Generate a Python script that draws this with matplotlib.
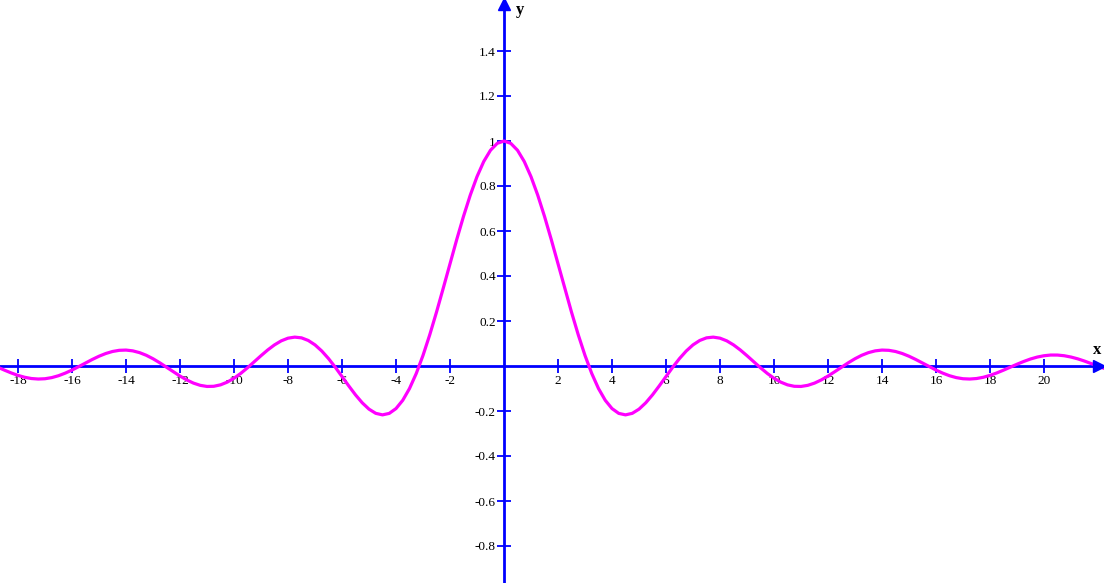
import numpy as np
import matplotlib.pyplot as plt

x_start, x_end, x_step = -19.0, 22.5, 0.25
y_vals = [0.0079, -0.0053, -0.0185, -0.0309, -0.0417, -0.0502, -0.0557, -0.0579,
          -0.0566, -0.0516, -0.0432, -0.0317, -0.0180, -0.0027, 0.0133, 0.0290,
          0.0434, 0.0555, 0.0645, 0.0697, 0.0708, 0.0673, 0.0595, 0.0477,
          0.0323, 0.0143, -0.0053, -0.0254, -0.0447, -0.0620, -0.0761, -0.0860,
          -0.0909, -0.0902, -0.0838, -0.0717, -0.0544, -0.0328, -0.0079, 0.0188,
          0.0458, 0.0714, 0.0939, 0.1118, 0.1237, 0.1283, 0.1251, 0.1135,
          0.0939, 0.0667, 0.0331, -0.0053, -0.0466, -0.0884, -0.1283, -0.1636,
          -0.1918, -0.2104, -0.2172, -0.2106, -0.1892, -0.1524, -0.1002, -0.0333,
          0.0470, 0.1388, 0.2394, 0.3458, 0.4546, 0.5623, 0.6650, 0.7592,
          0.8415, 0.9089, 0.9589, 0.9896,
          1.0,
          0.9896, 0.9589, 0.9089, 0.8415, 0.7592, 0.6650, 0.5623, 0.4546,
          0.3458, 0.2394, 0.1388, 0.0470, -0.0333, -0.1002, -0.1524, -0.1892,
          -0.2106, -0.2172, -0.2104, -0.1918, -0.1636, -0.1283, -0.0884, -0.0466,
          -0.0053, 0.0331, 0.0667, 0.0939, 0.1135, 0.1251, 0.1283, 0.1237,
          0.1118, 0.0939, 0.0714, 0.0458, 0.0188, -0.0079, -0.0328, -0.0544,
          -0.0717, -0.0838, -0.0902, -0.0909, -0.0860, -0.0761, -0.0620, -0.0447,
          -0.0254, -0.0053, 0.0143, 0.0323, 0.0477, 0.0595, 0.0673, 0.0708,
          0.0697, 0.0645, 0.0555, 0.0434, 0.0290, 0.0133, -0.0027, -0.0180,
          -0.0317, -0.0432, -0.0516, -0.0566, -0.0579, -0.0557, -0.0502, -0.0417,
          -0.0309, -0.0185, -0.0053, 0.0079, 0.0202, 0.0311, 0.0397, 0.0456,
          0.0487, 0.0486, 0.0456, 0.0398, 0.0318, 0.0219, 0.0110, -0.0004,
          -0.0115, -0.0216]
x_vals = np.arange(x_start, x_end + x_step / 2, x_step)[:len(y_vals)]

x_ticks = [-18, -16, -14, -12, -10, -8, -6, -4, -2, 2, 4, 6, 8, 10, 12, 14, 16, 18, 20]
y_ticks = [-0.8, -0.6, -0.4, -0.2, 0.2, 0.4, 0.6, 0.8, 1, 1.2, 1.4]
y_labels = ['-0.8', '-0.6', '-0.4', '-0.2', '0.2', '0.4', '0.6', '0.8', '1', '1.2', '1.4']

plt.rcParams['font.family'] = ['Liberation Serif', 'DejaVu Serif']

fig = plt.figure(figsize=(11.04, 5.83), dpi=100)
ax = fig.add_axes([0, 0, 1, 1])
ax.set_xlim(-504 / 27, 600 / 27)
ax.set_ylim(-217 / 225, 366 / 225)

blue = '#0000ff'
for side in ['top', 'right']:
    ax.spines[side].set_visible(False)
for side in ['left', 'bottom']:
    ax.spines[side].set_position(('data', 0))
    ax.spines[side].set_color(blue)
    ax.spines[side].set_linewidth(2.0)

ax.set_xticks(x_ticks)
ax.set_xticklabels([str(t) for t in x_ticks])
ax.set_yticks(y_ticks)
ax.set_yticklabels(y_labels)
ax.tick_params(axis='both', direction='inout', length=10, width=1.3, color=blue,
               labelsize=9.5, labelcolor='black')
ax.tick_params(axis='x', pad=1.5)
ax.tick_params(axis='y', pad=1)

ax.plot(x_vals, y_vals, color='#ff00ff', lw=2.3, solid_capstyle='round', zorder=3)

# arrow heads
ax.plot(22.04, 0, '>', color=blue, ms=8, clip_on=False, zorder=4)
ax.plot(0, 1.61, '^', color=blue, ms=8, clip_on=False, zorder=4)

ax.text(21.96, 0.035, 'x', fontsize=12, fontweight='bold', ha='center', va='bottom')
ax.text(0.58, 1.582, 'y', fontsize=12, fontweight='bold', ha='center', va='center')

fig.savefig('out.png', dpi=100)
